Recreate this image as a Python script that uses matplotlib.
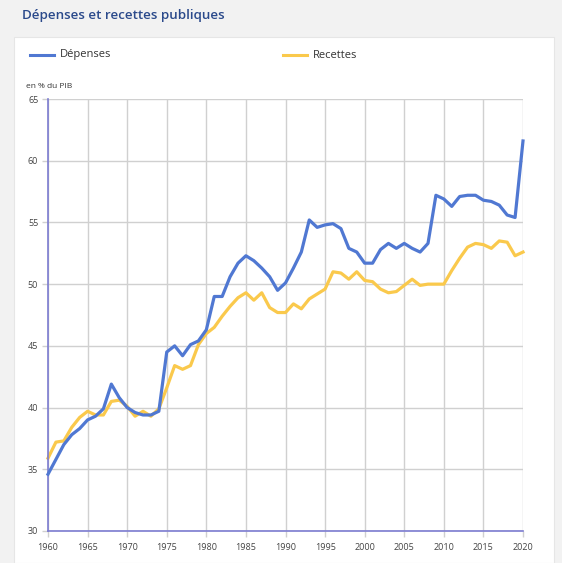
import numpy as np
import matplotlib.pyplot as plt
from matplotlib.patches import Rectangle

plt.rcParams['font.family'] = ['Open Sans', 'DejaVu Sans']

years = np.arange(1960, 2021)
depenses = [34.6, 35.8, 37.0, 37.8, 38.3, 39.0, 39.3, 39.9, 41.9, 40.8,
            40.0, 39.6, 39.4, 39.4, 39.7, 44.5, 45.0, 44.2, 45.1, 45.4,
            46.3, 49.0, 49.0, 50.6, 51.7, 52.3, 51.9, 51.3, 50.6, 49.5,
            50.1, 51.3, 52.6, 55.2, 54.6, 54.8, 54.9, 54.5, 52.9, 52.6,
            51.7, 51.7, 52.8, 53.3, 52.9, 53.3, 52.9, 52.6, 53.3, 57.2,
            56.9, 56.3, 57.1, 57.2, 57.2, 56.8, 56.7, 56.4, 55.6, 55.4,
            61.6]
recettes = [35.9, 37.2, 37.3, 38.4, 39.2, 39.7, 39.4, 39.4, 40.5, 40.6,
            40.1, 39.3, 39.7, 39.3, 39.9, 41.6, 43.4, 43.1, 43.4, 45.1,
            46.0, 46.5, 47.4, 48.2, 48.9, 49.3, 48.7, 49.3, 48.1, 47.7,
            47.7, 48.4, 48.0, 48.8, 49.2, 49.6, 51.0, 50.9, 50.4, 51.0,
            50.3, 50.2, 49.6, 49.3, 49.4, 49.9, 50.4, 49.9, 50.0, 50.0,
            50.0, 51.1, 52.1, 53.0, 53.3, 53.2, 52.9, 53.5, 53.4, 52.3,
            52.6]
xticks = np.arange(1960, 2021, 5)
yticks = np.arange(30, 66, 5)

W, H = 562, 563
fig = plt.figure(figsize=(W / 100, H / 100), dpi=100)
fig.patch.set_facecolor('#f2f2f2')

# white card
fig.patches.append(Rectangle((14 / W, 0), 540 / W, 1 - 37 / H,
                             transform=fig.transFigure, facecolor='white',
                             edgecolor='#e6e6e6', linewidth=0.8, zorder=-1))

fig.text(22 / W, 1 - 16 / H, 'Dépenses et recettes publiques', fontsize=9.6,
         fontweight='semibold', color='#2b4a8b', va='center', ha='left')

blue = '#5078d2'
yellow = '#fac94c'
axis_col = '#7b7bd0'

# legend
for x0, col, lab in [(30, blue, 'Dépenses'), (283, yellow, 'Recettes')]:
    fig.add_artist(plt.Line2D([x0 / W, (x0 + 24) / W], [1 - 55 / H, 1 - 55 / H],
                              color=col, linewidth=2.2, transform=fig.transFigure))
    fig.text((x0 + 30) / W, 1 - 55 / H, lab, fontsize=8, color='#333333',
             va='center', ha='left')

fig.text(26 / W, 1 - 86 / H, 'en % du PIB', fontsize=6, color='#333333',
         va='center', ha='left')

ax = fig.add_axes([48 / W, 32 / H, 475 / W, 432 / H], zorder=2)
ax.patch.set_alpha(0)
ax.plot(years, depenses, color=blue, linewidth=2.3, zorder=3, clip_on=False)
ax.plot(years, recettes, color=yellow, linewidth=2.3, zorder=2, clip_on=False)

ax.set_xlim(1960, 2020)
ax.set_ylim(30, 65)
ax.set_xticks(xticks)
ax.set_yticks(yticks)
ax.grid(True, color='#d0d0d0', linewidth=1)
ax.set_axisbelow(True)
ax.tick_params(axis='both', labelsize=6.5, colors='#444444', length=4,
               width=1)
ax.tick_params(axis='x', color='#d0d0d0', pad=5)
ax.tick_params(axis='y', color='#d0d0d0', pad=3)
for s in ['top', 'right']:
    ax.spines[s].set_visible(False)
for s in ['left', 'bottom']:
    ax.spines[s].set_color(axis_col)
    ax.spines[s].set_linewidth(1.2)

fig.savefig('out.png', dpi=100, facecolor=fig.get_facecolor())
